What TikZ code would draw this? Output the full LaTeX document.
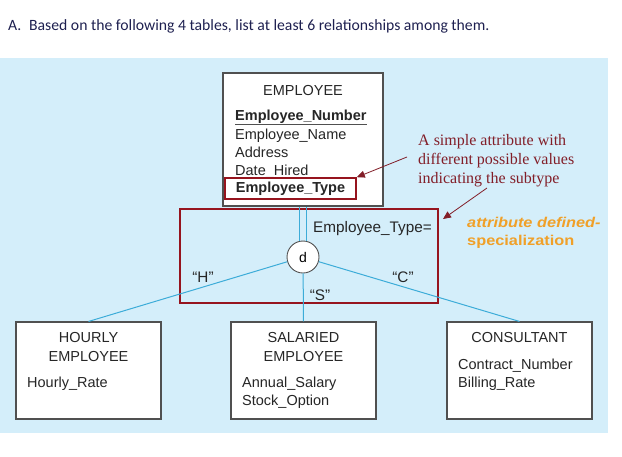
\documentclass[tikz,border=0pt]{standalone}
\usepackage{fontspec}
\setmainfont{Liberation Sans}
\newfontfamily\titlefont{Carlito}
\newfontfamily\notefont{Liberation Serif}
\newfontfamily\orangefont[FakeStretch=1.15]{Liberation Sans}
\usetikzlibrary{arrows.meta}
\definecolor{bgblue}{RGB}{212,238,250}
\definecolor{linkblue}{RGB}{60,172,216}
\definecolor{darkred}{RGB}{150,20,30}
\definecolor{notered}{RGB}{130,30,40}
\definecolor{boxgray}{RGB}{80,80,80}
\definecolor{titlenavy}{RGB}{30,32,80}
\definecolor{orangetxt}{RGB}{240,160,40}
\tikzset{
  entity/.style={draw=boxgray, line width=1.1pt, fill=white, rectangle, inner sep=0pt},
  txt/.style={inner sep=0pt, font=\fontsize{14.5}{17}\selectfont, text=black!85},
  conn/.style={draw=linkblue, line width=1pt},
  redbox/.style={draw=darkred, line width=1.8pt, inner sep=0pt, rectangle},
  notearrow/.style={draw=notered, line width=0.8pt, -{Triangle[length=8pt,width=7pt]}},
  lbl/.style={inner sep=0pt, font=\fontsize{15.3}{17}\selectfont, text=black!85},
  notetxt/.style={anchor=base west, inner sep=0pt, text=notered, font=\notefont\fontsize{16}{19}\selectfont},
  orangetext/.style={anchor=base west, inner sep=0pt, text=orangetxt, font=\orangefont\bfseries\fontsize{14.2}{18}\selectfont}
}
\begin{document}
\begin{tikzpicture}[x=1pt,y=-1pt]
\useasboundingbox (0,0) rectangle (622,456);
\fill[bgblue] (0,58) rectangle (608,433);
% title
\node[anchor=base west, inner sep=0pt, text=titlenavy, font=\titlefont\fontsize{15.7}{18}\selectfont] (title) at (8,30) {A.\enspace Based on the following 4 tables, list at least 6 relationships among them.};

% specialization red box
\node[redbox, minimum width=258pt, minimum height=94pt] (spec) at (309,256) {};

% EMPLOYEE
\node[entity, minimum width=160pt, minimum height=133pt] (emp) at (303,139.5) {};
\node[txt, anchor=base] (empname) at (303,95) {EMPLOYEE};
\node[txt, anchor=base west, font=\bfseries\fontsize{14.5}{17}\selectfont] (enum) at (235,120) {Employee\_Number};
\draw[boxgray, line width=0.9pt] ([yshift=-4pt]enum.base west) -- ([yshift=-4pt]enum.base east);
\node[txt, anchor=base west] (ename) at (235,139) {Employee\_Name};
\node[txt, anchor=base west] (eaddr) at (235,157) {Address};
\node[txt, anchor=base west] (ehired) at (235,175) {Date\_Hired};
\node[redbox, minimum width=131pt, minimum height=21pt, line width=1.6pt, font=\bfseries\fontsize{14.5}{17}\selectfont, text=black!85] (etype) at (290.5,188.5) {Employee\_Type};

% d circle
\node[circle, draw=boxgray, line width=0.9pt, fill=white, minimum size=32pt, inner sep=0pt, font=\fontsize{14}{16}\selectfont] (d) at (303,257) {d};

% subclasses
\node[entity, minimum width=145pt, minimum height=97pt] (hourly) at (88.5,370.5) {};
\node[txt, anchor=base] (hname1) at (88.5,342) {HOURLY};
\node[txt, anchor=base] (hname2) at (88.5,361) {EMPLOYEE};
\node[txt, anchor=base west] (hrate) at (27,387) {Hourly\_Rate};

\node[entity, minimum width=145pt, minimum height=97pt] (salaried) at (303.5,370.5) {};
\node[txt, anchor=base] (sname1) at (303.5,342) {SALARIED};
\node[txt, anchor=base] (sname2) at (303.5,361) {EMPLOYEE};
\node[txt, anchor=base west] (sattr1) at (242,387) {Annual\_Salary};
\node[txt, anchor=base west] (sattr2) at (242,405) {Stock\_Option};

\node[entity, minimum width=145pt, minimum height=97pt] (cons) at (519.5,370.5) {};
\node[txt, anchor=base] (cname) at (519.5,342) {CONSULTANT};
\node[txt, anchor=base west] (cattr1) at (458,369) {Contract\_Number};
\node[txt, anchor=base west] (cattr2) at (458,387) {Billing\_Rate};

% connectors
\draw[conn] (d.104) -- (d.104 |- emp.south);
\draw[conn] (d.76) -- (d.76 |- emp.south);
\draw[conn] (d) -- (hourly.north);
\draw[conn] (d) -- (salaried.north);
\draw[conn] (d) -- (cons.north);

% labels
\node[lbl, anchor=base west] (typelbl) at (313,232) {Employee\_Type=};
\node[lbl, anchor=base] (hlbl) at (203,282) {“H”};
\node[lbl, anchor=base] (slbl) at (320,300) {“S”};
\node[lbl, anchor=base] (clbl) at (403,282) {“C”};

% annotation
\node[notetxt] (note1) at (418,145) {A simple attribute with};
\node[notetxt] (note2) at (418,164) {different possible values};
\node[notetxt] (note3) at (418,183) {indicating the subtype};
\coordinate (n1) at (407,157);
\coordinate (n2) at (487,188);
\coordinate (tip2) at (443,219);
\draw[notearrow] (n1) -- (etype.north east);
\draw[notearrow] (n2) -- (tip2);

\node[orangetext] (orange1) at (467,227) {\itshape attribute defined-};
\node[orangetext] (orange2) at (467,245) {specialization};
\end{tikzpicture}
\end{document}
